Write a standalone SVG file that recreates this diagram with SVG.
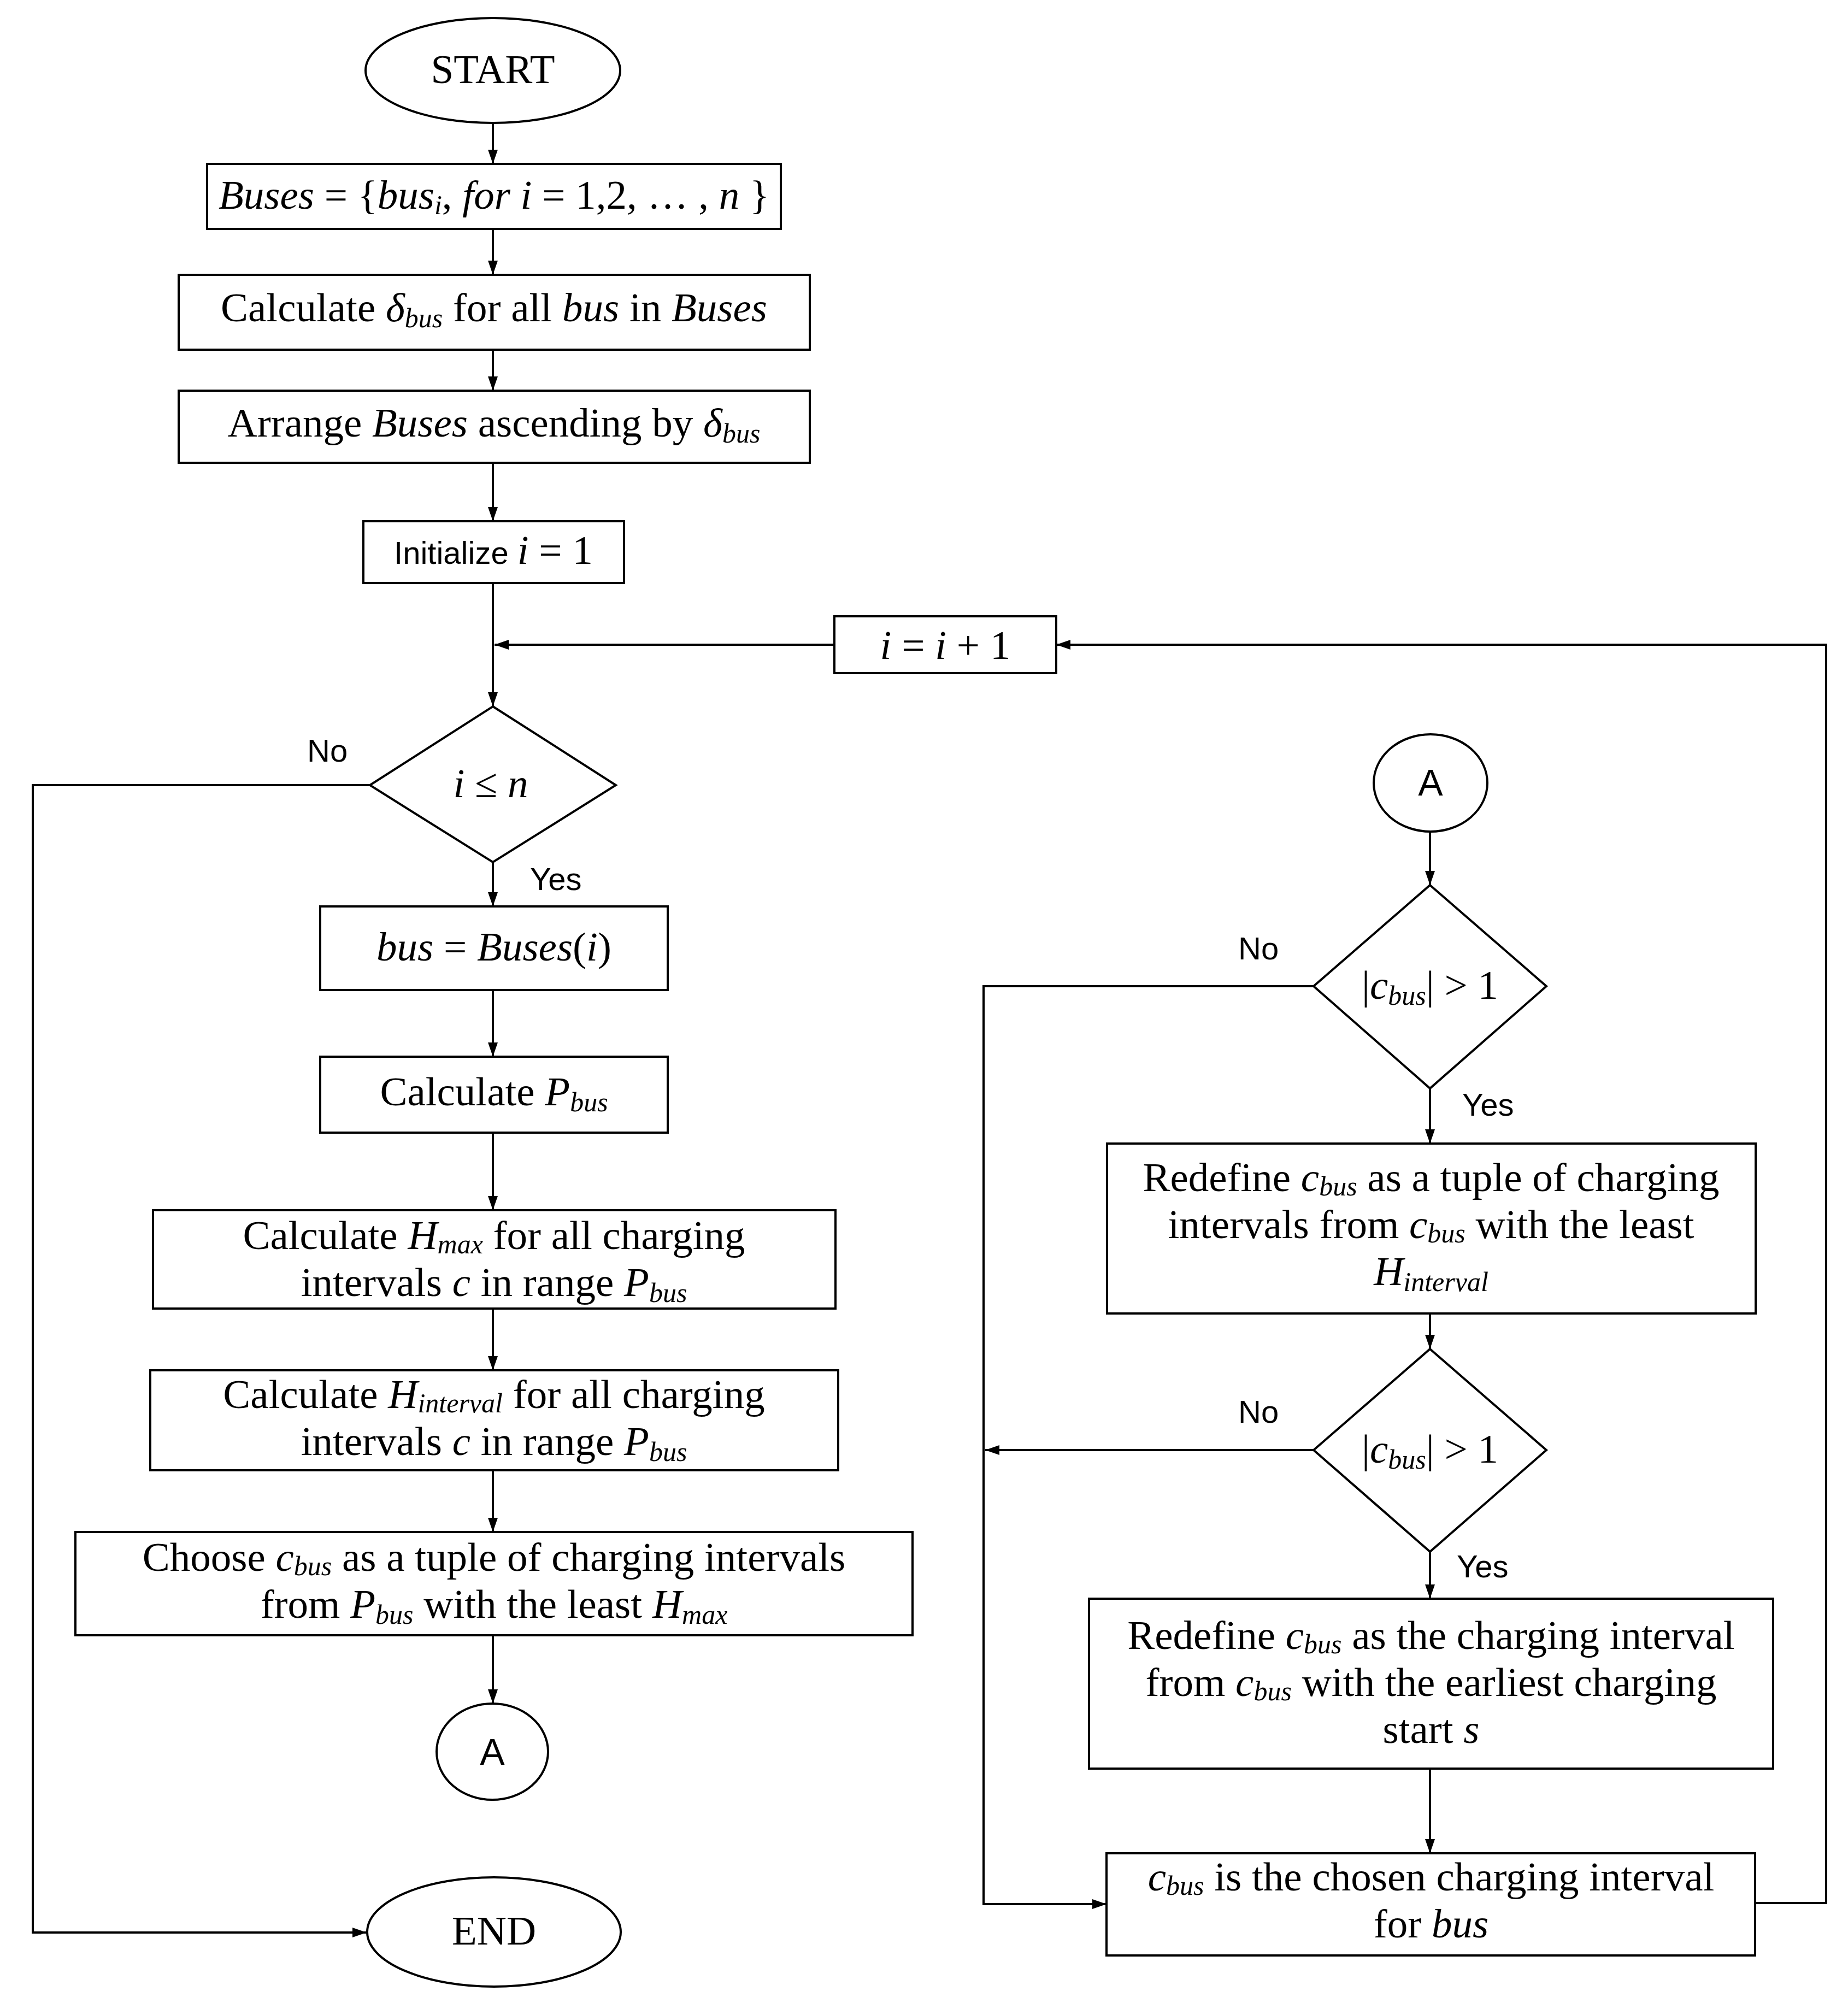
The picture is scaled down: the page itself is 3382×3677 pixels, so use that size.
<svg xmlns="http://www.w3.org/2000/svg" width="3382" height="3677" viewBox="0 0 3382 3677">
<style>
.bg{fill:#fff}
.n{fill:#fff;stroke:#000;stroke-width:4}
.e{fill:none;stroke:#000;stroke-width:4;stroke-linejoin:miter}
.t{font-family:"Liberation Serif",serif;font-size:75px;text-anchor:middle;fill:#000}
.m{font-style:italic}
.sub{font-style:italic;font-size:50px}
.sans{font-family:"Liberation Sans",sans-serif;font-size:58px;fill:#000}
.lab{font-family:"Liberation Sans",sans-serif;font-size:58px;fill:#000}
.big{font-family:"Liberation Sans",sans-serif;font-size:68px;text-anchor:middle;fill:#000}
</style>
<defs>
<marker id="ah" markerUnits="userSpaceOnUse" markerWidth="28" markerHeight="20" refX="26" refY="9" orient="auto">
<path d="M0,0 L26,9 L0,18 z" fill="#000"/>
</marker>
</defs>
<rect class="bg" x="0" y="0" width="3382" height="3677"/>

<g id="connectors">
<line class="e" x1="902" y1="226" x2="902" y2="300" marker-end="url(#ah)"/>
<line class="e" x1="902" y1="419" x2="902" y2="503" marker-end="url(#ah)"/>
<line class="e" x1="902" y1="640" x2="902" y2="715" marker-end="url(#ah)"/>
<line class="e" x1="902" y1="847" x2="902" y2="954" marker-end="url(#ah)"/>
<line class="e" x1="902" y1="1067" x2="902" y2="1293" marker-end="url(#ah)"/>
<line class="e" x1="1527" y1="1180" x2="905" y2="1180" marker-end="url(#ah)"/>
<line class="e" x1="902" y1="1578" x2="902" y2="1659" marker-end="url(#ah)"/>
<polyline class="e" points="677,1437 60,1437 60,3537 671,3537" marker-end="url(#ah)"/>
<line class="e" x1="902" y1="1812" x2="902" y2="1934" marker-end="url(#ah)"/>
<line class="e" x1="902" y1="2073" x2="902" y2="2215" marker-end="url(#ah)"/>
<line class="e" x1="902" y1="2395" x2="902" y2="2508" marker-end="url(#ah)"/>
<line class="e" x1="902" y1="2691" x2="902" y2="2804" marker-end="url(#ah)"/>
<line class="e" x1="902" y1="2993" x2="902" y2="3118" marker-end="url(#ah)"/>
<line class="e" x1="2617" y1="1522" x2="2617" y2="1620" marker-end="url(#ah)"/>
<polyline class="e" points="2404,1805 1800,1805 1800,3485 2025,3485" marker-end="url(#ah)"/>
<line class="e" x1="2617" y1="1992" x2="2617" y2="2093" marker-end="url(#ah)"/>
<line class="e" x1="2617" y1="2404" x2="2617" y2="2469" marker-end="url(#ah)"/>
<line class="e" x1="2404" y1="2654" x2="1803" y2="2654" marker-end="url(#ah)"/>
<line class="e" x1="2617" y1="2840" x2="2617" y2="2926" marker-end="url(#ah)"/>
<line class="e" x1="2617" y1="3237" x2="2617" y2="3392" marker-end="url(#ah)"/>
<polyline class="e" points="3212,3483 3342,3483 3342,1180 1933,1180" marker-end="url(#ah)"/>
<text class="lab" x="562" y="1394">No</text>
<text class="lab" x="970" y="1629">Yes</text>
<text class="lab" x="2266" y="1756">No</text>
<text class="lab" x="2676" y="2042">Yes</text>
<text class="lab" x="2266" y="2604">No</text>
<text class="lab" x="2666" y="2887">Yes</text>
</g>

<g id="start">
<ellipse class="n" cx="902" cy="129" rx="233" ry="96"/>
<text class="t" x="902" y="152">START</text>
</g>

<g id="buses">
<rect class="n" x="379" y="300" width="1050" height="119"/>
<text class="t" x="904" y="382"><tspan class="m">Buses</tspan> = {<tspan class="m">bus</tspan><tspan class="sub" dy="10">i</tspan><tspan dy="-10">, </tspan><tspan class="m">for i</tspan> = 1,2, … , <tspan class="m">n</tspan> }</text>
</g>

<g id="calc-delta">
<rect class="n" x="327" y="503" width="1155" height="137"/>
<text class="t" x="904" y="588">Calculate <tspan class="m">δ</tspan><tspan class="sub" dy="11">bus</tspan><tspan dy="-11"> for all </tspan><tspan class="m">bus</tspan> in <tspan class="m">Buses</tspan></text>
</g>

<g id="arrange">
<rect class="n" x="327" y="715" width="1155" height="132"/>
<text class="t" x="904" y="799">Arrange <tspan class="m">Buses</tspan> ascending by <tspan class="m">δ</tspan><tspan class="sub" dy="11">bus</tspan></text>
</g>

<g id="init">
<rect class="n" x="665" y="954" width="477" height="113"/>
<text class="t" x="903" y="1032"><tspan class="sans">Initialize </tspan><tspan class="m">i</tspan> = 1</text>
</g>

<g id="increment">
<rect class="n" x="1527" y="1128" width="406" height="104"/>
<text class="t" x="1730" y="1206"><tspan class="m">i</tspan> = <tspan class="m">i</tspan> + 1</text>
</g>

<g id="cond-i">
<polygon class="n" points="902,1293 1127,1437 902,1578 677,1437"/>
<text class="t" x="898" y="1459"><tspan class="m">i</tspan> ≤ <tspan class="m">n</tspan></text>
</g>

<g id="bus-assign">
<rect class="n" x="586" y="1659" width="636" height="153"/>
<text class="t" x="904" y="1758"><tspan class="m">bus</tspan> = <tspan class="m">Buses</tspan>(<tspan class="m">i</tspan>)</text>
</g>

<g id="calc-p">
<rect class="n" x="586" y="1934" width="636" height="139"/>
<text class="t" x="904" y="2023">Calculate <tspan class="m">P</tspan><tspan class="sub" dy="11">bus</tspan></text>
</g>

<g id="calc-hmax">
<rect class="n" x="280" y="2215" width="1249" height="180"/>
<text class="t" x="904" y="2286">Calculate <tspan class="m">H</tspan><tspan class="sub" dy="8">max</tspan><tspan dy="-8"> for all charging</tspan></text>
<text class="t" x="904" y="2372">intervals <tspan class="m">c</tspan> in range <tspan class="m">P</tspan><tspan class="sub" dy="11">bus</tspan></text>
</g>

<g id="calc-hint">
<rect class="n" x="275" y="2508" width="1259" height="183"/>
<text class="t" x="904" y="2577">Calculate <tspan class="m">H</tspan><tspan class="sub" dy="8">interval</tspan><tspan dy="-8"> for all charging</tspan></text>
<text class="t" x="904" y="2663">intervals <tspan class="m">c</tspan> in range <tspan class="m">P</tspan><tspan class="sub" dy="11">bus</tspan></text>
</g>

<g id="choose">
<rect class="n" x="138" y="2804" width="1532" height="189"/>
<text class="t" x="904" y="2875">Choose <tspan class="m">c</tspan><tspan class="sub" dy="8">bus</tspan><tspan dy="-8"> as a tuple of charging intervals</tspan></text>
<text class="t" x="904" y="2961">from <tspan class="m">P</tspan><tspan class="sub" dy="11">bus</tspan><tspan dy="-11"> with the least </tspan><tspan class="m">H</tspan><tspan class="sub" dy="11">max</tspan></text>
</g>

<g id="conn-a-left">
<ellipse class="n" cx="901" cy="3206" rx="102" ry="88"/>
<text class="big" x="901" y="3230">A</text>
</g>

<g id="end">
<ellipse class="n" cx="904" cy="3536" rx="232" ry="100"/>
<text class="t" x="904" y="3559">END</text>
</g>

<g id="conn-a-right">
<ellipse class="n" cx="2618" cy="1433" rx="104" ry="89"/>
<text class="big" x="2618" y="1456">A</text>
</g>

<g id="cond-c1">
<polygon class="n" points="2617,1620 2830,1805 2617,1992 2404,1805"/>
<text class="t" x="2617" y="1828">|<tspan class="m">c</tspan><tspan class="sub" dy="11">bus</tspan><tspan dy="-11">| &gt; 1</tspan></text>
</g>

<g id="redefine-tuple">
<rect class="n" x="2026" y="2093" width="1187" height="311"/>
<text class="t" x="2619" y="2180">Redefine <tspan class="m">c</tspan><tspan class="sub" dy="8">bus</tspan><tspan dy="-8"> as a tuple of charging</tspan></text>
<text class="t" x="2619" y="2266">intervals from <tspan class="m">c</tspan><tspan class="sub" dy="8">bus</tspan><tspan dy="-8"> with the least</tspan></text>
<text class="t" x="2619" y="2352"><tspan class="m">H</tspan><tspan class="sub" dy="11">interval</tspan></text>
</g>

<g id="cond-c2">
<polygon class="n" points="2617,2469 2830,2654 2617,2840 2404,2654"/>
<text class="t" x="2617" y="2677">|<tspan class="m">c</tspan><tspan class="sub" dy="11">bus</tspan><tspan dy="-11">| &gt; 1</tspan></text>
</g>

<g id="redefine-earliest">
<rect class="n" x="1993" y="2926" width="1252" height="311"/>
<text class="t" x="2619" y="3018">Redefine <tspan class="m">c</tspan><tspan class="sub" dy="8">bus</tspan><tspan dy="-8"> as the charging interval</tspan></text>
<text class="t" x="2619" y="3104">from <tspan class="m">c</tspan><tspan class="sub" dy="8">bus</tspan><tspan dy="-8"> with the earliest charging</tspan></text>
<text class="t" x="2619" y="3190">start <tspan class="m">s</tspan></text>
</g>

<g id="chosen">
<rect class="n" x="2025" y="3392" width="1187" height="187"/>
<text class="t" x="2619" y="3460"><tspan class="m">c</tspan><tspan class="sub" dy="8">bus</tspan><tspan dy="-8"> is the chosen charging interval</tspan></text>
<text class="t" x="2619" y="3546">for <tspan class="m">bus</tspan></text>
</g>
</svg>
